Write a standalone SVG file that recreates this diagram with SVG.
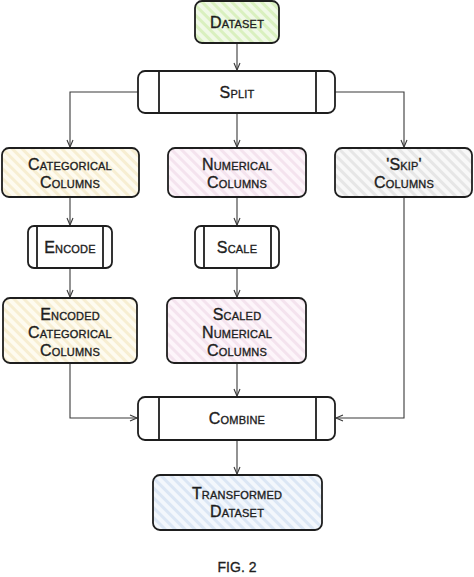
<svg xmlns="http://www.w3.org/2000/svg" width="474" height="577" viewBox="0 0 474 577">
<style>
.box{stroke:#1e1e1e;stroke-width:1.8;}
.ln{fill:none;stroke:#1e1e1e;stroke-width:1.8;}
.c{fill:none;stroke:#3a3a3a;stroke-width:1.1;marker-end:url(#ah);}
.t{font-family:"Liberation Sans",Arial,sans-serif;font-size:16px;font-variant:small-caps;fill:#1e1e1e;stroke:#1e1e1e;stroke-width:0.35px;text-anchor:middle;letter-spacing:0.2px;}
.f{font-family:"Liberation Sans",Arial,sans-serif;font-size:14px;fill:#1e1e1e;stroke:#1e1e1e;stroke-width:0.3px;text-anchor:middle;}
</style>
<defs>
<marker id="ah" markerWidth="10" markerHeight="10" refX="8" refY="4" orient="auto" markerUnits="userSpaceOnUse">
<path d="M1,1 L8,4 L1,7" fill="none" stroke="#3a3a3a" stroke-width="1.1"/>
</marker>
<pattern id="pg" width="7" height="7" patternUnits="userSpaceOnUse" patternTransform="rotate(-45)"><rect width="7" height="7" fill="#f0f9e6"/><rect width="3" height="7" fill="#d9f0bf"/></pattern>
<pattern id="py" width="7" height="7" patternUnits="userSpaceOnUse" patternTransform="rotate(-45)"><rect width="7" height="7" fill="#fefbf0"/><rect width="3" height="7" fill="#f7eed2"/></pattern>
<pattern id="pp" width="7" height="7" patternUnits="userSpaceOnUse" patternTransform="rotate(-45)"><rect width="7" height="7" fill="#fdf5fa"/><rect width="3" height="7" fill="#f4e3ee"/></pattern>
<pattern id="pk" width="7" height="7" patternUnits="userSpaceOnUse" patternTransform="rotate(-45)"><rect width="7" height="7" fill="#f8f8f8"/><rect width="3" height="7" fill="#e6e6e6"/></pattern>
<pattern id="pb" width="7" height="7" patternUnits="userSpaceOnUse" patternTransform="rotate(-45)"><rect width="7" height="7" fill="#f3f7fc"/><rect width="3" height="7" fill="#dbe6f4"/></pattern>
</defs>
<rect width="474" height="577" fill="#ffffff"/>
<g id="connectors">
<path class="c" d="M237,43 V70"/>
<path class="c" d="M138,92 H70 V147"/>
<path class="c" d="M237,113 V147"/>
<path class="c" d="M335,92 H404 V147"/>
<path class="c" d="M70,197 V225"/>
<path class="c" d="M237,197 V225"/>
<path class="c" d="M70,268 V297"/>
<path class="c" d="M237,268 V297"/>
<path class="c" d="M70,363 V418 H137"/>
<path class="c" d="M237,363 V396"/>
<path class="c" d="M404,197 V418 H336"/>
<path class="c" d="M237,440 V474"/>
</g>
<g id="dataset">
<rect class="box" x="195" y="1" width="84" height="42" rx="7" fill="url(#pg)"/>
<text class="t" x="237" y="27.5">Dataset</text>
</g>
<g id="split">
<rect class="box" x="138" y="71" width="197" height="42" rx="7" fill="#ffffff"/>
<path class="ln" d="M159,71 V113 M316,71 V113"/>
<text class="t" x="237" y="97.5">Split</text>
</g>
<g id="categorical">
<rect class="box" x="2" y="148" width="137" height="49" rx="7" fill="url(#py)"/>
<text class="t" x="70" y="170">Categorical</text>
<text class="t" x="70" y="188">Columns</text>
</g>
<g id="numerical">
<rect class="box" x="168" y="148" width="138" height="49" rx="7" fill="url(#pp)"/>
<text class="t" x="237" y="170">Numerical</text>
<text class="t" x="237" y="188">Columns</text>
</g>
<g id="skip">
<rect class="box" x="335" y="148" width="137" height="49" rx="7" fill="url(#pk)"/>
<text class="t" x="404" y="170">'Skip'</text>
<text class="t" x="404" y="188">Columns</text>
</g>
<g id="encode">
<rect class="box" x="28" y="226" width="84" height="42" rx="6" fill="#ffffff"/>
<path class="ln" d="M37,226 V268 M103,226 V268"/>
<text class="t" x="70" y="252.5">Encode</text>
</g>
<g id="scale">
<rect class="box" x="195" y="226" width="84" height="42" rx="6" fill="#ffffff"/>
<path class="ln" d="M204,226 V268 M271,226 V268"/>
<text class="t" x="237" y="252.5">Scale</text>
</g>
<g id="encoded">
<rect class="box" x="3" y="298" width="134" height="65" rx="7" fill="url(#py)"/>
<text class="t" x="70" y="320">Encoded</text>
<text class="t" x="70" y="338">Categorical</text>
<text class="t" x="70" y="356">Columns</text>
</g>
<g id="scaled">
<rect class="box" x="167" y="298" width="139" height="65" rx="7" fill="url(#pp)"/>
<text class="t" x="237" y="320">Scaled</text>
<text class="t" x="237" y="338">Numerical</text>
<text class="t" x="237" y="356">Columns</text>
</g>
<g id="combine">
<rect class="box" x="138" y="397" width="197" height="43" rx="7" fill="#ffffff"/>
<path class="ln" d="M159,397 V440 M316,397 V440"/>
<text class="t" x="237" y="423.5">Combine</text>
</g>
<g id="transformed">
<rect class="box" x="153" y="475" width="169" height="55" rx="7" fill="url(#pb)"/>
<text class="t" x="237" y="499">Transformed</text>
<text class="t" x="237" y="517">Dataset</text>
</g>
<text class="f" x="237" y="572">FIG. 2</text>
</svg>
